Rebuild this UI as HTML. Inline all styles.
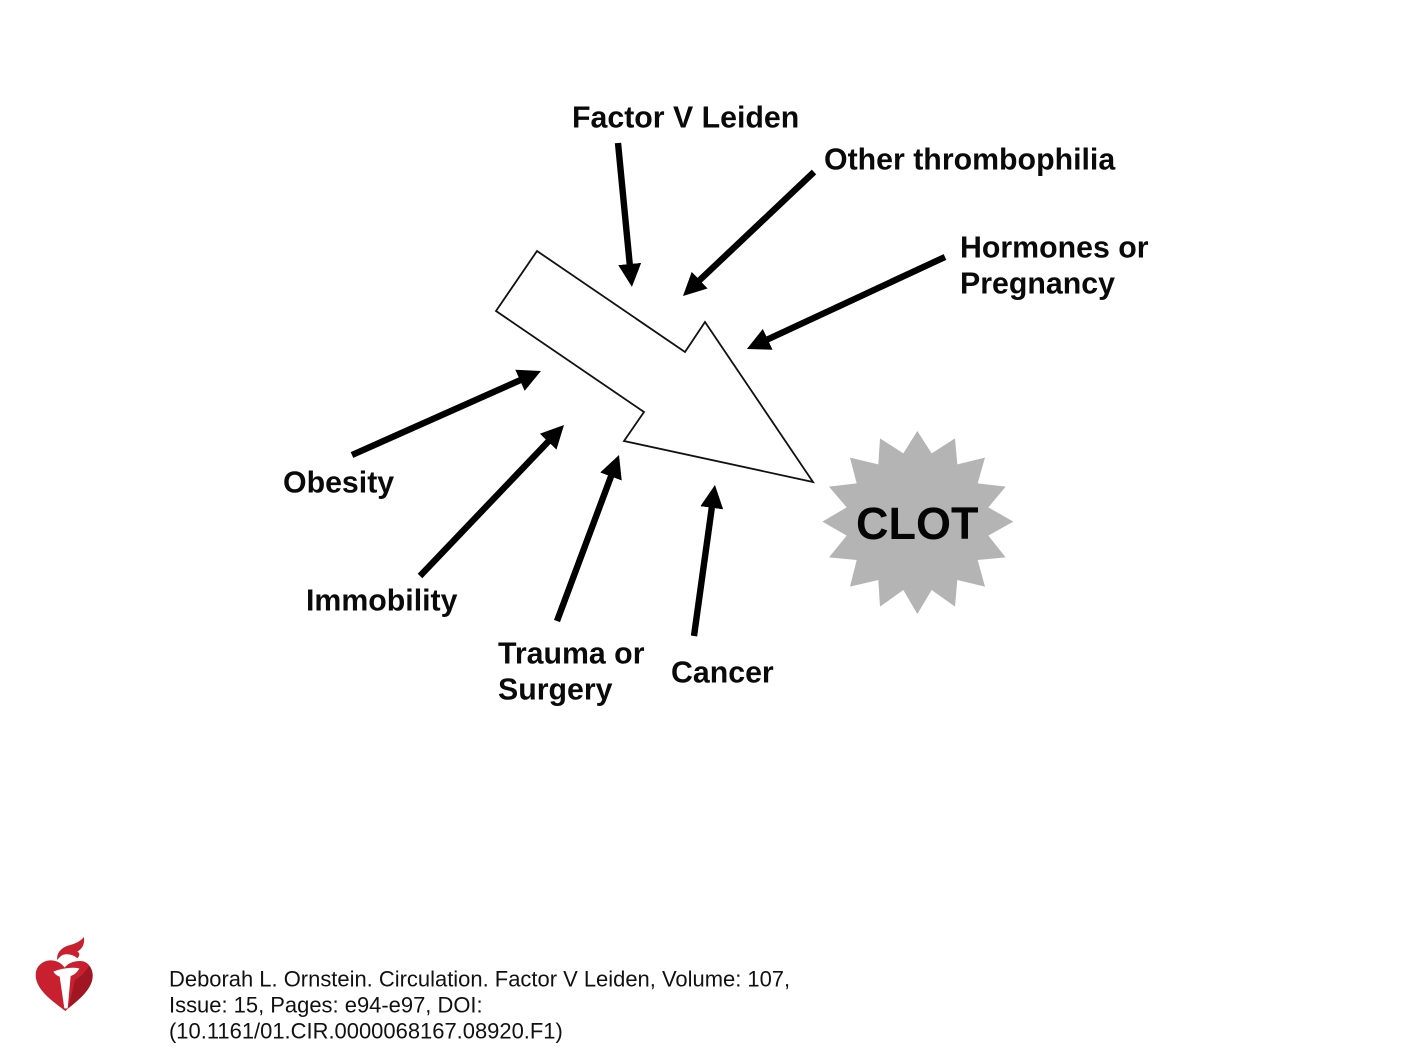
<!DOCTYPE html>
<html><head><meta charset="utf-8"><style>
html,body{margin:0;padding:0;background:#fff}
svg{display:block;filter:blur(.35px)}
.b{font:bold 30.3px "Liberation Sans",sans-serif;fill:#0a0a0a}
.c{font:21.96px "Liberation Sans",sans-serif;fill:#111}
</style></head><body>
<svg width="1428" height="1062" viewBox="0 0 1428 1062" xmlns="http://www.w3.org/2000/svg">
<defs><marker id="h" markerUnits="userSpaceOnUse" markerWidth="28" markerHeight="28" refX="3" refY="14" orient="auto"><path d="M0,2.5 L23,14 L0,25.5 Z" fill="#000"/></marker></defs>
<rect width="1428" height="1062" fill="#fff"/>
<polygon points="537,251 496,311 644,412 624,441 813,482 705,322 685,352" fill="#fff" stroke="#111" stroke-width="1.8" stroke-linejoin="miter"/>
<g stroke="#000" stroke-width="6.4">
<line x1="618" y1="143" x2="630" y2="267" marker-end="url(#h)"/>
<line x1="814" y1="172" x2="697.5" y2="282.2" marker-end="url(#h)"/>
<line x1="945" y1="257" x2="765" y2="340.6" marker-end="url(#h)"/>
<line x1="352" y1="455" x2="522.7" y2="379.1" marker-end="url(#h)"/>
<line x1="420" y1="576" x2="550.2" y2="439.5" marker-end="url(#h)"/>
<line x1="557" y1="621" x2="612" y2="473.7" marker-end="url(#h)"/>
<line x1="694" y1="636" x2="712.2" y2="504.8" marker-end="url(#h)"/>
</g>
<g transform="translate(810,420) scale(.33333)">
<polygon fill="#b4b4b4" points="322,33 365,100 435,55 442,133 525,113 503,190 587,200 535,262 610,305 535,347 587,412 503,420 525,500 442,480 435,560 365,510 322,582 280,510 210,560 205,480 120,500 140,420 57,412 110,347 37,305 110,262 57,200 140,190 120,113 205,133 210,55 280,100"/>
</g>
<text class="b" x="572" y="127.5">Factor V Leiden</text>
<text class="b" x="824" y="169.5">Other thrombophilia</text>
<text class="b" x="960" y="257.5">Hormones or</text>
<text class="b" x="960" y="293.5">Pregnancy</text>
<text class="b" x="283" y="492.5">Obesity</text>
<text class="b" x="306" y="610.5">Immobility</text>
<text class="b" x="498" y="663.5">Trauma or</text>
<text class="b" x="498" y="699.5">Surgery</text>
<text class="b" x="671" y="682.5">Cancer</text>
<text x="856" y="539" style="font:bold 45px 'Liberation Sans',sans-serif" fill="#050505">CLOT</text>
<g transform="translate(20,925) scale(.33333)">
<path fill="#c8202f" d="M136,258 C100,230 47,195 47,150 C47,122 70,106 92,106 C112,106 126,116 134,128 C142,116 160,108 180,108 C203,108 218,128 218,152 C218,195 170,228 136,258 Z"/>
<path fill="#a01622" d="M165,165 C185,155 200,135 207,122 C215,132 218,142 218,152 C218,190 180,222 145,250 Z"/>
<path fill="#c8202f" d="M112,105 C108,80 130,65 150,60 C165,56 180,50 192,36 C195,60 185,72 172,80 C180,84 180,92 172,100 C160,88 140,85 128,90 C120,94 116,100 112,105 Z"/>
<path fill="#fff" d="M100,140 C120,132 150,125 178,130 C170,145 160,150 152,153 L143,250 L133,250 L119,155 C110,152 104,147 100,140 Z"/>
</g>
<text class="c" x="169" y="986.5">Deborah L. Ornstein. Circulation. Factor V Leiden, Volume: 107,</text>
<text class="c" x="169" y="1012.5">Issue: 15, Pages: e94-e97, DOI:</text>
<text class="c" x="169" y="1038.5">(10.1161/01.CIR.0000068167.08920.F1)</text>
</svg>
</body></html>
